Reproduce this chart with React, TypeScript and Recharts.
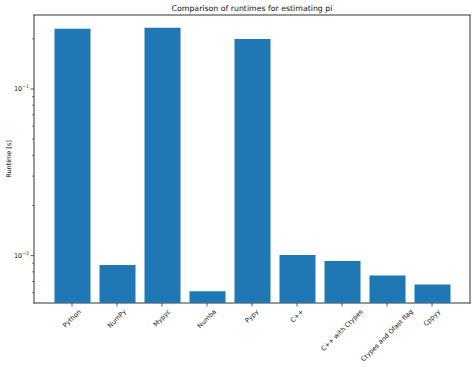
import { BarChart, Bar, XAxis, YAxis } from 'recharts'

const languages = ['Python', 'NumPy', 'Mypyc', 'Numba', 'Pypy', 'C++', 'C++ with Ctypes', 'Ctypes and Ofast flag', 'Cppyy']
const runtimes = [0.2297, 0.00879, 0.233, 0.00612, 0.1995, 0.0101, 0.0093, 0.0076, 0.00672]
const yTicks = [0.006, 0.007, 0.008, 0.009, 0.01, 0.02, 0.03, 0.04, 0.05, 0.06, 0.07, 0.08, 0.09, 0.1, 0.2]
const majorTicks: Record<number, string> = { 0.01: '\u22122', 0.1: '\u22121' }

const data = languages.map((name, i) => ({ name, runtime: runtimes[i] }))

const FONT = 'DejaVu Sans'
const TICK_SIZE = 6.5
const AXIS_COLOR = '#333'
const TEXT_COLOR = '#111'

const W = 474
const H = 367
const MARGIN = { top: 15, right: 4, bottom: 0, left: 0 }
const Y_AXIS_W = 34
const X_AXIS_H = 64

let ctx: CanvasRenderingContext2D | null = null
function textWidth(s: string) {
  if (!ctx) ctx = document.createElement('canvas').getContext('2d')
  if (!ctx) return s.length * TICK_SIZE * 0.6
  ctx.font = `${TICK_SIZE}px "${FONT}"`
  return ctx.measureText(s).width
}

function XTick(props: any) {
  const { x, y, payload } = props
  const label = String(payload.value)
  const w = textWidth(label)
  const h = TICK_SIZE * 0.95
  const half = (w + h) * 0.7071 / 2
  const top = y + 5.5
  return (
    <g>
      <line x1={x} x2={x} y1={y} y2={y + 3.5} stroke={AXIS_COLOR} strokeWidth={0.8} />
      <text
        x={x}
        y={top + half}
        textAnchor="middle"
        dominantBaseline="central"
        transform={`rotate(-45 ${x} ${top + half})`}
        fontSize={TICK_SIZE}
        fontFamily={FONT}
        fill={TEXT_COLOR}
      >
        {label}
      </text>
    </g>
  )
}

function YTick(props: any) {
  const { x, y, payload } = props
  const exp = majorTicks[payload.value]
  return (
    <g>
      <line x1={x} x2={x - (exp ? 3.5 : 2)} y1={y} y2={y} stroke={AXIS_COLOR} strokeWidth={exp ? 0.8 : 0.6} />
      {exp && (
        <text x={x - 5} y={y + 2.3} textAnchor="end" fontSize={TICK_SIZE} fontFamily={FONT} fill={TEXT_COLOR}>
          10<tspan fontSize={4.6} dy={-3}>{exp}</tspan>
        </text>
      )}
    </g>
  )
}

export default function App() {
  const plotX = MARGIN.left + Y_AXIS_W
  const plotY = MARGIN.top
  const plotW = W - MARGIN.right - plotX
  const plotH = H - MARGIN.bottom - X_AXIS_H - plotY
  return (
    <div style={{ position: 'absolute', left: 0, top: 0, width: W, height: H, background: '#fff' }}>
      <BarChart width={W} height={H} data={data} margin={MARGIN}>
        <text x={plotX + plotW / 2} y={11} textAnchor="middle" fontSize={7.8} fontFamily={FONT} fill={TEXT_COLOR}>
          Comparison of runtimes for estimating pi
        </text>
        <text
          x={9}
          y={plotY + plotH / 2}
          textAnchor="middle"
          dominantBaseline="central"
          transform={`rotate(-90 9 ${plotY + plotH / 2})`}
          fontSize={TICK_SIZE}
          fontFamily={FONT}
          fill={TEXT_COLOR}
        >
          Runtime [s]
        </text>
        <XAxis
          dataKey="name"
          height={X_AXIS_H}
          interval={0}
          padding={{ left: 15.5, right: 15.5 }}
          tickSize={0}
          tickMargin={0}
          tickLine={false}
          tick={<XTick />}
          axisLine={false}
        />
        <YAxis
          scale="log"
          type="number"
          domain={[0.0052, 0.278]}
          allowDataOverflow
          ticks={yTicks}
          interval={0}
          width={Y_AXIS_W}
          tickSize={0}
          tickMargin={0}
          tickLine={false}
          tick={<YTick />}
          axisLine={false}
        />
        <Bar dataKey="runtime" fill="#1f77b4" barSize={36} isAnimationActive={false} />
        {/* axes frame (matplotlib spines), drawn as 1px filled strips */}
        <rect x={plotX - 0.5} y={plotY - 0.5} width={plotW + 1} height={1} fill={AXIS_COLOR} />
        <rect x={plotX + plotW - 0.5} y={plotY - 0.5} width={1} height={plotH + 1} fill={AXIS_COLOR} />
        <rect x={plotX - 0.5} y={plotY - 0.5} width={1} height={plotH + 1} fill={AXIS_COLOR} />
        <rect x={plotX - 0.5} y={plotY + plotH - 0.5} width={plotW + 1} height={1} fill={AXIS_COLOR} />
      </BarChart>
    </div>
  )
}
